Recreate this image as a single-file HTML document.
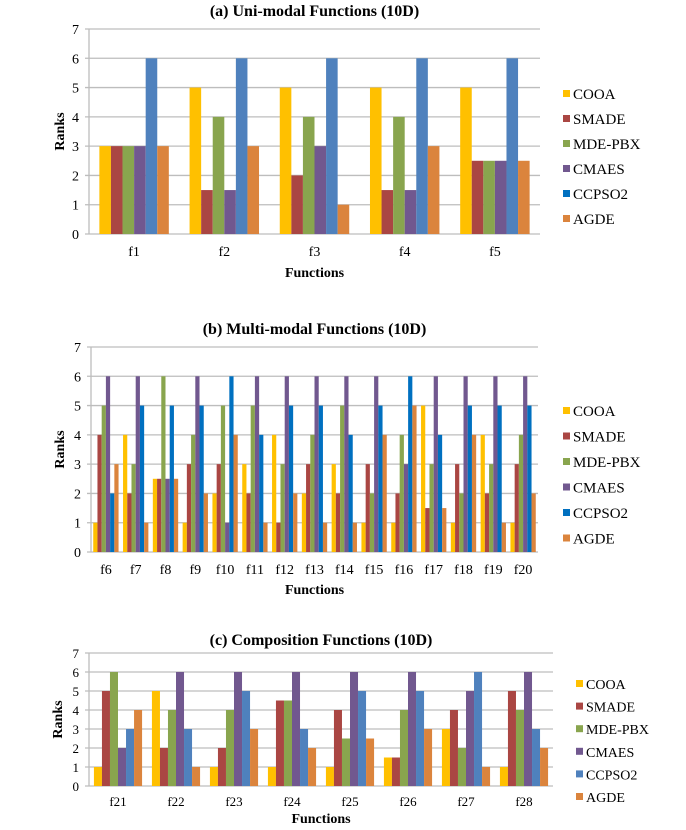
<!DOCTYPE html>
<html><head><meta charset="utf-8"><style>
body{margin:0;background:#fff;}
svg{display:block;}
svg text{font-family:"Liberation Serif","DejaVu Serif",serif;}
</style></head><body>
<svg id="svg" width="686" height="830" viewBox="0 0 686 830"></svg>
<script>
const seriesNames=["COOA","SMADE","MDE-PBX","CMAES","CCPSO2","AGDE"];
const yTicks=[0,1,2,3,4,5,6,7];
const catsA=["f1","f2","f3","f4","f5"];
const cooaA=[3,5,5,5,5];
const smadeA=[3,1.5,2,1.5,2.5];
const mdeA=[3,4,4,4,2.5];
const cmaesA=[3,1.5,3,1.5,2.5];
const ccpsoA=[6,6,6,6,6];
const agdeA=[3,3,1,3,2.5];
const catsB=["f6","f7","f8","f9","f10","f11","f12","f13","f14","f15","f16","f17","f18","f19","f20"];
const cooaB=[1,4,2.5,1,2,3,4,2,3,1,1,5,1,4,1];
const smadeB=[4,2,2.5,3,3,2,1,3,2,3,2,1.5,3,2,3];
const mdeB=[5,3,6,4,5,5,3,4,5,2,4,3,2,3,4];
const cmaesB=[6,6,2.5,6,1,6,6,6,6,6,3,6,6,6,6];
const ccpsoB=[2,5,5,5,6,4,5,5,4,5,6,4,5,5,5];
const agdeB=[3,1,2.5,2,4,1,2,1,1,4,5,1.5,4,1,2];
const catsC=["f21","f22","f23","f24","f25","f26","f27","f28"];
const cooaC=[1,5,1,1,1,1.5,3,1];
const smadeC=[5,2,2,4.5,4,1.5,4,5];
const mdeC=[6,4,4,4.5,2.5,4,2,4];
const cmaesC=[2,6,6,6,6,6,5,6];
const ccpsoC=[3,3,5,3,5,5,6,3];
const agdeC=[4,1,3,2,2.5,3,1,2];

const svg=document.getElementById('svg');
const NS="http://www.w3.org/2000/svg";
function mk(tag,attrs,parent){const e=document.createElementNS(NS,tag);for(const k in attrs)e.setAttribute(k,attrs[k]);(parent||svg).appendChild(e);return e;}
function txt(s,attrs,parent){attrs['font-family']='Liberation Serif, serif';const e=mk('text',attrs,parent);e.textContent=s;return e;}

function chart(cfg){
  const g=mk('g',{});
  
  
  const x0=cfg.x0,x1=cfg.x1,yTop=cfg.yTop,yBot=cfg.yBot;
  const yS=v=>yBot-(v/7)*(yBot-yTop);
  const gw=(x1-x0)/cfg.cats.length;
  const xC=i=>x0+gw*(i+0.5);
  const t=txt(cfg.title,{x:(x0+x1)/2,y:cfg.titleY,'text-anchor':'middle','font-size':cfg.titleSize,'font-weight':'bold',fill:'#000'},g);
  
  
  yTicks.forEach(v=>{
    const l=mk('line',{x1:x0-4,x2:x1,y1:yS(v),y2:yS(v),stroke:'#bdbdbd','stroke-width':1.3},g);
    
    
    const tl=txt(String(v),{x:x0-10,y:yS(v)+5,'text-anchor':'end','font-size':cfg.tickSize,fill:'#000'},g);
    
    
  });
  const ax=mk('line',{x1:x0,x2:x0,y1:yTop,y2:yBot,stroke:'#bdbdbd','stroke-width':1.3},g);
  
  
  const bw=gw*cfg.fill/6;
  cfg.series.forEach((vals,s)=>{
    vals.forEach((v,i)=>{
      const bx=xC(i)-bw*3+s*bw;
      const r=mk('rect',{x:bx,y:yS(v),width:bw,height:yBot-yS(v),fill:cfg.colors[s]},g);
      
      
    });
  });
  cfg.cats.forEach((c,i)=>{
    const cl=txt(c,{x:xC(i),y:cfg.catY,'text-anchor':'middle','font-size':cfg.tickSize,fill:'#000'},g);
    
    
  });
  const xt=txt('Functions',{x:(x0+x1)/2,y:cfg.xTitleY,'text-anchor':'middle','font-size':14,'font-weight':'bold',fill:'#000'},g);
  
  
  const yc=(yTop+yBot)/2;
  const yt=txt('Ranks',{x:cfg.yTitleX,y:yc,'text-anchor':'middle','font-size':14,'font-weight':'bold',fill:'#000',transform:'rotate(-90 '+cfg.yTitleX+' '+yc+')'},g);
  
  
  seriesNames.forEach((n,s)=>{
    const ly=cfg.legY+s*cfg.legStep;
    const lg=mk('g',{},g);
    
    
    mk('rect',{x:cfg.legX,y:ly-4,width:7,height:7,fill:cfg.legColors[s]},lg);
    txt(n,{x:cfg.legX+10,y:ly+5,'font-size':cfg.legSize,fill:'#000'},lg);
  });
}
const Y='#FFC000',R='#AA4643',G='#89A54E',P='#71588F',B1='#4F81BD',B2='#0070C0',O='#DB843D';
chart({name:'chart-unimodal',title:'(a) Uni-modal Functions (10D)',titleY:16,titleSize:16,x0:89,x1:540,yTop:29,yBot:234,cats:catsA,
  series:[cooaA,smadeA,mdeA,cmaesA,ccpsoA,agdeA],fill:0.77,colors:[Y,R,G,P,B1,O],legColors:[Y,R,G,P,B2,O],
  catY:256,xTitleY:277,yTitleX:64,tickSize:14,legX:563,legY:94,legStep:25,legSize:15});
chart({name:'chart-multimodal',title:'(b) Multi-modal Functions (10D)',titleY:334,titleSize:16,x0:91,x1:538,yTop:347,yBot:552,cats:catsB,
  series:[cooaB,smadeB,mdeB,cmaesB,ccpsoB,agdeB],fill:0.85,colors:[Y,R,G,P,B2,O],legColors:[Y,R,G,P,B2,O],
  catY:574,xTitleY:594,yTitleX:64,tickSize:14,legX:563,legY:411,legStep:25.5,legSize:15});
chart({name:'chart-composition',title:'(c) Composition Functions (10D)',titleY:645,titleSize:16,x0:89,x1:553,yTop:653,yBot:786,cats:catsC,
  series:[cooaC,smadeC,mdeC,cmaesC,ccpsoC,agdeC],fill:0.83,colors:[Y,R,G,P,B1,O],legColors:[Y,R,G,P,B1,O],
  catY:806,xTitleY:823,yTitleX:62,tickSize:13,legX:576,legY:684,legStep:22.6,legSize:14});
</script>
</body></html>
